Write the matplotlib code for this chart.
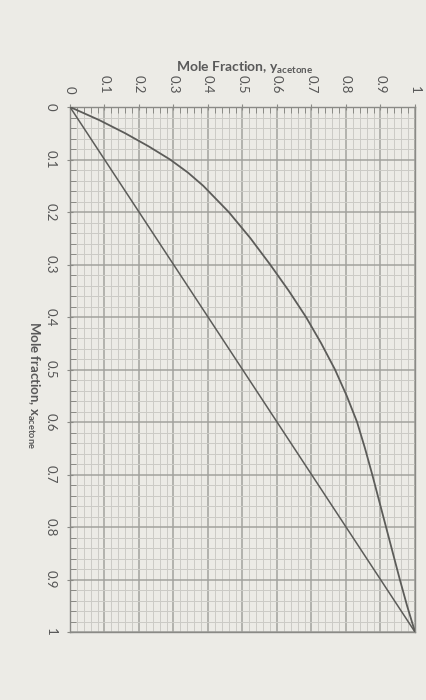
import numpy as np
import matplotlib
matplotlib.use("Agg")
import matplotlib.pyplot as plt
from matplotlib.ticker import MultipleLocator

# equilibrium data (liquid x, vapour y)
x_liq = [0.0, 0.025, 0.05, 0.075, 0.1, 0.125, 0.15, 0.2, 0.25, 0.3, 0.35, 0.4, 0.45,
         0.5, 0.55, 0.6, 0.65, 0.7, 0.75, 0.8, 0.85, 0.9, 0.95, 1.0]
y_vap = [0.0, 0.085, 0.16, 0.228, 0.29, 0.342, 0.386, 0.46, 0.523, 0.58, 0.634, 0.684, 0.728,
         0.768, 0.802, 0.832, 0.855, 0.876, 0.896, 0.916, 0.936, 0.956, 0.977, 1.0]
diag = [0.0, 1.0]
tick_vals = [0.0, 0.1, 0.2, 0.3, 0.4, 0.5, 0.6, 0.7, 0.8, 0.9, 1.0]
tick_txt = ["0", "0.1", "0.2", "0.3", "0.4", "0.5", "0.6", "0.7", "0.8", "0.9", "1"]

paper = "#ecebe6"
plt.rcParams['font.family'] = ['Lato', 'DejaVu Sans']

fig = plt.figure(figsize=(4.27, 7.0), dpi=100)
fig.patch.set_facecolor(paper)
# chart is photographed turned a quarter turn: y_acetone runs left->right along top,
# x_acetone runs top->bottom along the left side
ax = fig.add_axes([70/427, 1 - 632/700, 345/427, 525/700])
ax.set_facecolor(paper)

ax.plot(y_vap, x_liq, color="#5c5c59", lw=1.3, zorder=3)
ax.plot(diag, diag, color="#5c5c59", lw=1.1, zorder=3)

ax.set_xlim(0, 1)
ax.set_ylim(1, 0)

ax.xaxis.set_minor_locator(MultipleLocator(0.02))
ax.yaxis.set_minor_locator(MultipleLocator(0.02))
ax.grid(which="minor", color="#cbcbc6", lw=0.7, zorder=0)
ax.grid(which="major", color="#a2a29e", lw=1.1, zorder=1)

ax.xaxis.tick_top()
ax.set_xticks(tick_vals)
ax.set_xticklabels(tick_txt, rotation=-90, color="#555555", fontsize=9.5)
ax.set_yticks(tick_vals)
ax.set_yticklabels(tick_txt, rotation=-90, va="center", color="#555555", fontsize=9.5)
ax.tick_params(which="major", direction="inout", length=5, color="#8a8a86", pad=7)
ax.tick_params(which="minor", direction="in", length=4, color="#8a8a86", width=0.7)
ax.tick_params(axis="x", which="both", top=True, bottom=False)
ax.tick_params(axis="y", which="both", left=True, right=False)

for s in ax.spines.values():
    s.set_color("#8a8a86")
    s.set_linewidth(1.0)

fig.text(245/427, 1 - 68/700, r"Mole Fraction, y$_{\mathregular{acetone}}$",
         ha="center", va="center", fontsize=10, fontweight="bold", color="#595959")
fig.text(33/427, 1 - 385/700, r"Mole fraction, x$_{\mathregular{acetone}}$",
         ha="center", va="center", rotation=-90, fontsize=9.5, fontweight="bold", color="#595959")

fig.savefig("out.png", dpi=100, facecolor=paper)
